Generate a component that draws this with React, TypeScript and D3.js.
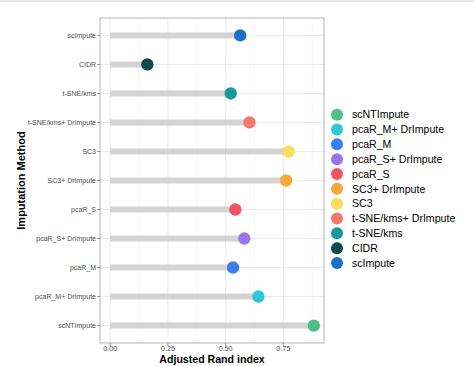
import React from 'react';
import * as d3 from 'd3';

const methods = [
  'scNTImpute', 'pcaR_M+ DrImpute', 'pcaR_M', 'pcaR_S+ DrImpute', 'pcaR_S',
  'SC3+ DrImpute', 'SC3', 't-SNE/kms+ DrImpute', 't-SNE/kms', 'CIDR', 'scImpute',
];
const ari = [0.882, 0.642, 0.532, 0.581, 0.542, 0.762, 0.773, 0.603, 0.522, 0.161, 0.563];
const colors = [
  '#4cbf8b', '#2dc9d9', '#3a7ef0', '#9b73e6', '#ef5566',
  '#f6a83c', '#f8dc5c', '#f07a72', '#15999f', '#0c4a4b', '#1a72c6',
];
const xTicks = [0, 0.25, 0.5, 0.75];
const xMinor = [0.125, 0.375, 0.625, 0.875];

const W = 474;
const H = 366;
const panel = { left: 100, right: 324, top: 18, bottom: 343 };

export default function App() {
  const x = d3.scaleLinear()
    .domain([-0.0441, 0.926])
    .range([panel.left, panel.right]);
  // ggplot discrete axis: first level at bottom, 0.6 expansion
  const y = d3.scaleLinear()
    .domain([0.4, methods.length + 0.6])
    .range([panel.bottom, panel.top]);
  const yPos = (i: number) => y(i + 1);

  const font = 'Liberation Sans, Arial, sans-serif';

  return (
    <svg width={W} height={H} style={{ position: 'absolute', left: 0, top: 0 }} fontFamily={font}>
      <rect x={0} y={0} width={W} height={H} fill="#fff" />
      <rect x={0} y={0} width={W} height={2} fill="#e6e6e6" />

      {/* grid */}
      {xMinor.map((t) => (
        <line key={'mn' + t} x1={x(t)} x2={x(t)} y1={panel.top} y2={panel.bottom} stroke="#f2f2f2" strokeWidth={0.6} />
      ))}
      {xTicks.map((t) => (
        <line key={'mj' + t} x1={x(t)} x2={x(t)} y1={panel.top} y2={panel.bottom} stroke="#ebebeb" strokeWidth={1} />
      ))}
      {methods.map((m, i) => (
        <line key={'hg' + m} x1={panel.left} x2={panel.right} y1={yPos(i)} y2={yPos(i)} stroke="#ebebeb" strokeWidth={1} />
      ))}

      {/* segments */}
      {methods.map((m, i) => (
        <line key={'sg' + m} x1={x(0)} x2={x(ari[i])} y1={yPos(i)} y2={yPos(i)} stroke="#d3d3d3" strokeWidth={6} />
      ))}
      {/* points */}
      {methods.map((m, i) => (
        <circle key={'pt' + m} cx={x(ari[i])} cy={yPos(i)} r={6.2} fill={colors[i]} />
      ))}

      <rect x={panel.left} y={panel.top} width={panel.right - panel.left} height={panel.bottom - panel.top}
        fill="none" stroke="#b3b3b3" strokeWidth={1} />

      {/* y axis */}
      {methods.map((m, i) => (
        <g key={'yl' + m}>
          <line x1={panel.left - 3} x2={panel.left} y1={yPos(i)} y2={yPos(i)} stroke="#555" strokeWidth={0.6} />
          <text x={panel.left - 4} y={yPos(i)} dy="0.35em" textAnchor="end" fontSize={7} fill="#4d4d4d">{m}</text>
        </g>
      ))}
      {/* x axis */}
      {xTicks.map((t) => (
        <g key={'xl' + t}>
          <line x1={x(t)} x2={x(t)} y1={panel.bottom} y2={panel.bottom + 3} stroke="#555" strokeWidth={0.6} />
          <text x={x(t)} y={351} textAnchor="middle" fontSize={7.2} fill="#4d4d4d">{d3.format('.2f')(t)}</text>
        </g>
      ))}

      <text x={(panel.left + panel.right) / 2} y={362.5} textAnchor="middle" fontSize={10.6} fontWeight="bold" fill="#000">
        Adjusted Rand index
      </text>
      <text transform={`translate(25,${(panel.top + panel.bottom) / 2}) rotate(-90)`} textAnchor="middle"
        fontSize={11} fontWeight="bold" fill="#000">
        Imputation Method
      </text>

      {/* legend */}
      {methods.map((m, i) => (
        <g key={'lg' + m} transform={`translate(337,${114.7 + i * 14.83})`}>
          <circle cx={0} cy={0} r={6} fill={colors[i]} />
          <text x={15} y={0} dy="0.35em" fontSize={10.6} fill="#000">{m}</text>
        </g>
      ))}
    </svg>
  );
}
